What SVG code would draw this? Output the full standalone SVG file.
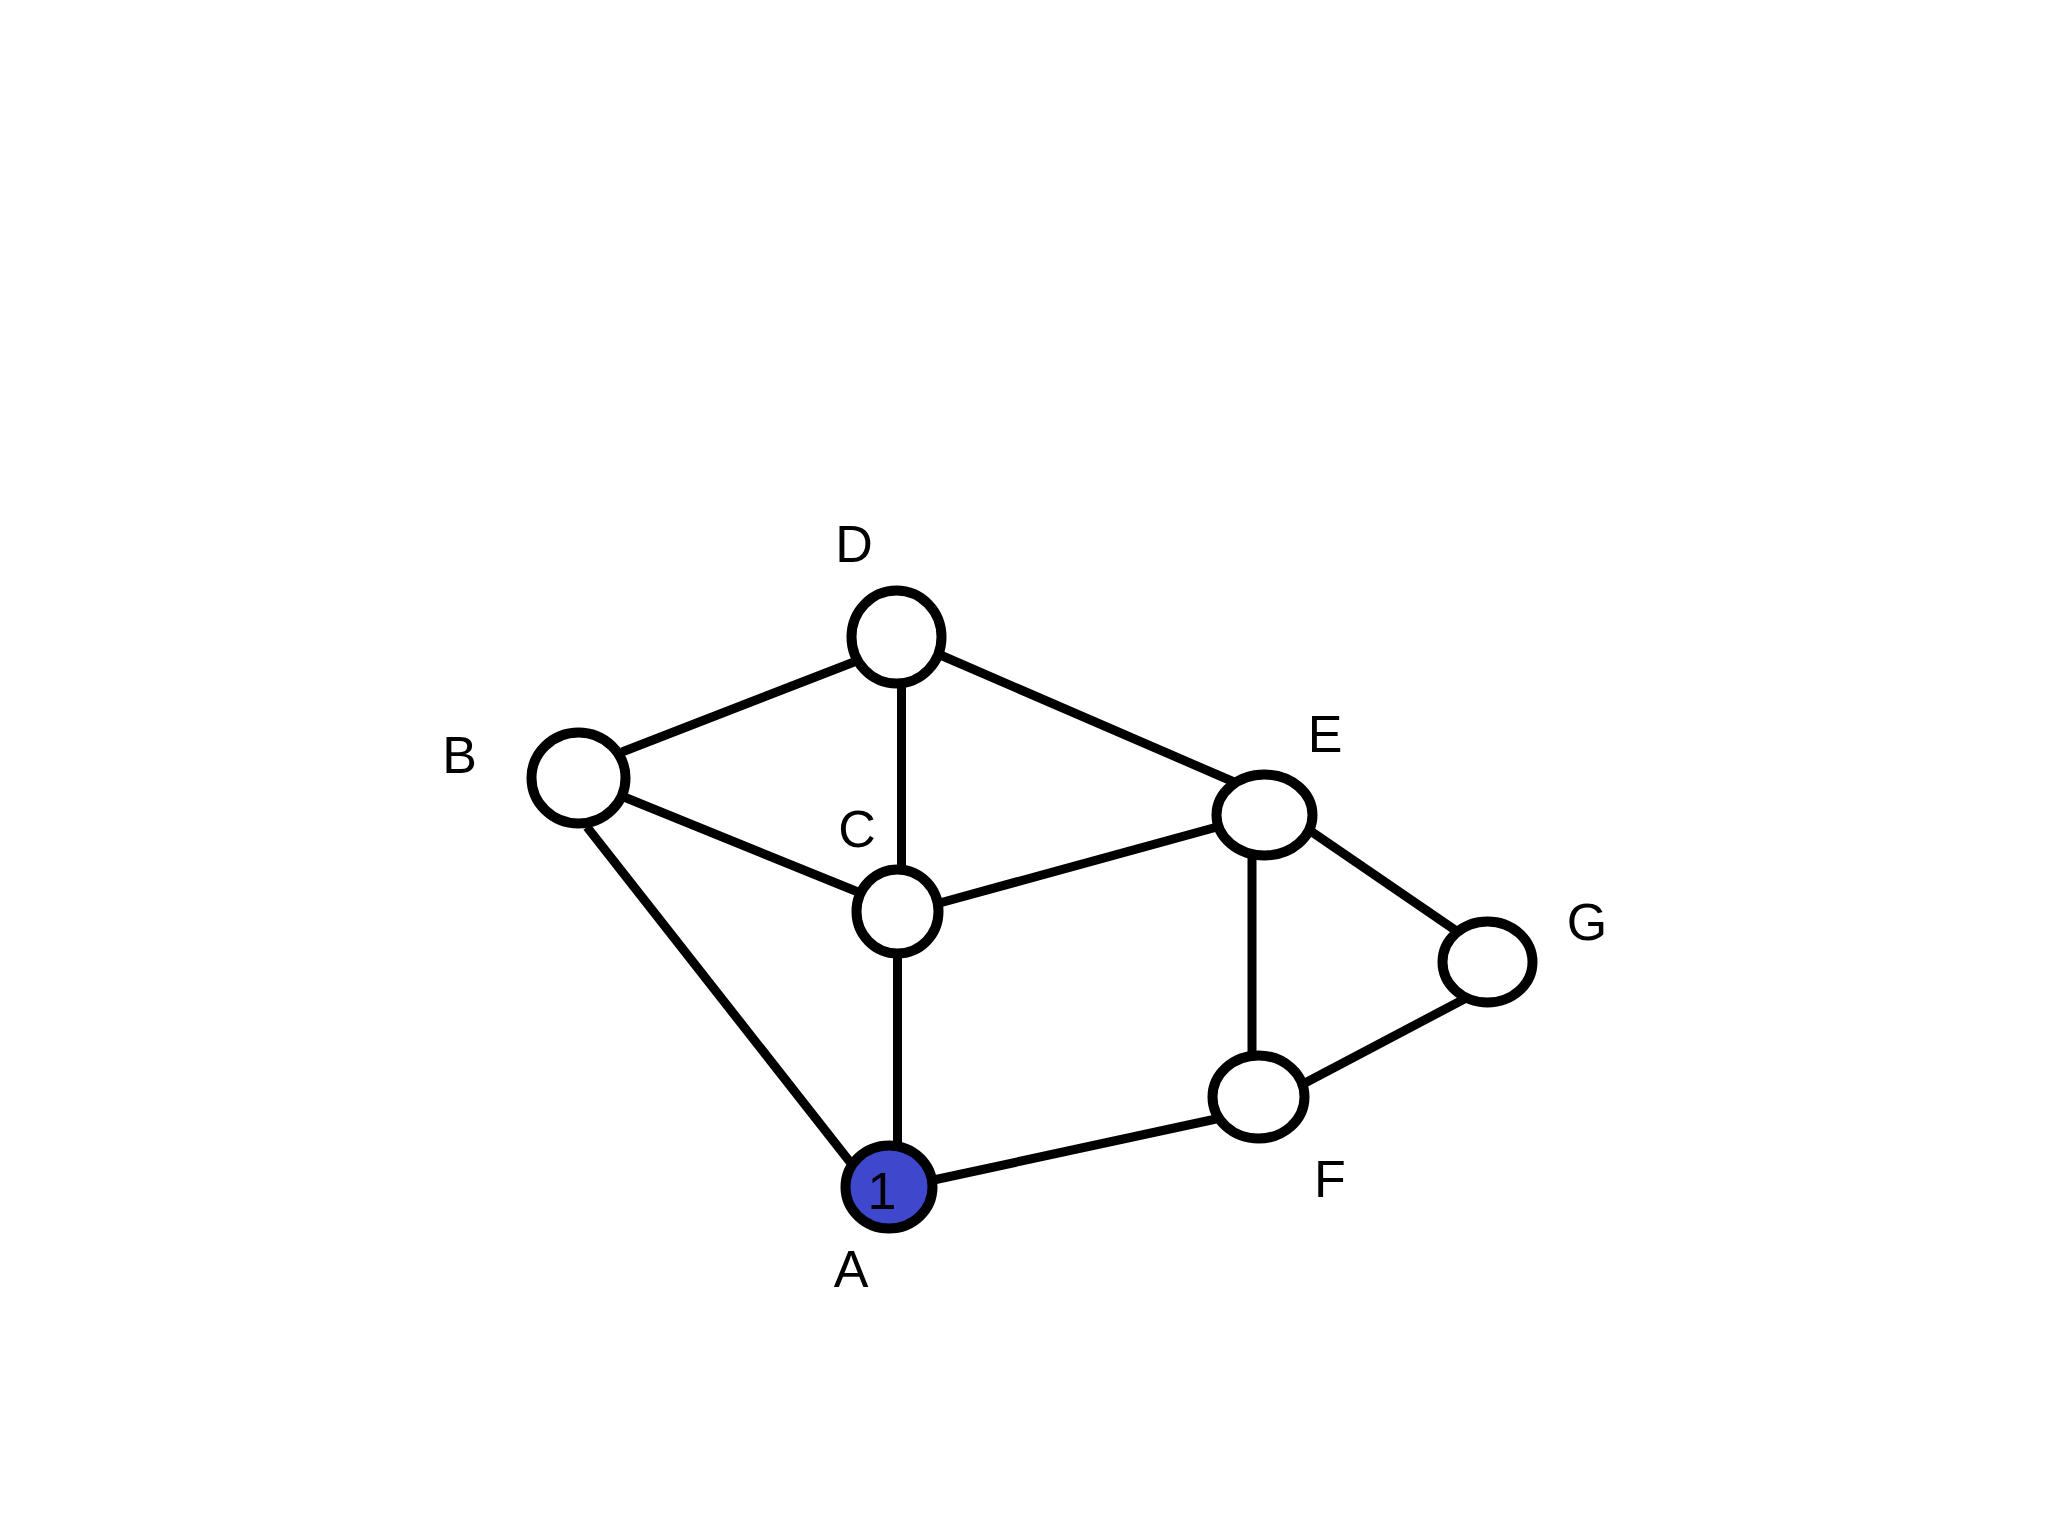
<svg xmlns="http://www.w3.org/2000/svg" width="2048" height="1536" viewBox="0 0 2048 1536">
<style>
.edge{stroke:#000;stroke-width:9;fill:none;stroke-linecap:butt}
.node{fill:#fff;stroke:#000;stroke-width:10}
.start{fill:#3f48cc}
.lbl{font-family:"Liberation Sans",Arial,sans-serif;font-size:52px;fill:#000;text-anchor:middle}
</style>
<rect width="2048" height="1536" fill="#fff"/>
<g id="edges">
<line class="edge" x1="622" y1="752" x2="854" y2="662"/>
<line class="edge" x1="624" y1="797" x2="858" y2="892"/>
<line class="edge" x1="587" y1="827" x2="850" y2="1162"/>
<line class="edge" x1="901.5" y1="680" x2="901.5" y2="872"/>
<line class="edge" x1="897.5" y1="950" x2="897.5" y2="1148"/>
<line class="edge" x1="938" y1="654" x2="1234" y2="782"/>
<line class="edge" x1="936" y1="904" x2="1217" y2="827"/>
<line class="edge" x1="1312" y1="832" x2="1455" y2="930"/>
<line class="edge" x1="1252" y1="852" x2="1252" y2="1058"/>
<line class="edge" x1="1470" y1="996" x2="1305" y2="1083"/>
<line class="edge" x1="929" y1="1181" x2="1216" y2="1119"/>
</g>
<g id="node-D"><ellipse class="node" cx="896.5" cy="637" rx="45" ry="46.5"/><text class="lbl" x="854" y="562">D</text></g>
<g id="node-B"><ellipse class="node" cx="578.5" cy="778" rx="47" ry="45.5"/><text class="lbl" x="459.5" y="773">B</text></g>
<g id="node-C"><ellipse class="node" cx="897.5" cy="911.5" rx="41" ry="42"/><text class="lbl" x="857" y="847">C</text></g>
<g id="node-E"><ellipse class="node" cx="1264.5" cy="815" rx="48" ry="40.5"/><text class="lbl" x="1325" y="752">E</text></g>
<g id="node-G"><ellipse class="node" cx="1487.5" cy="962" rx="45" ry="40.5"/><text class="lbl" x="1587" y="940">G</text></g>
<g id="node-F"><ellipse class="node" cx="1258.5" cy="1097" rx="46" ry="41.5"/><text class="lbl" x="1330" y="1197">F</text></g>
<g id="node-A"><ellipse class="node start" cx="889" cy="1187" rx="43.5" ry="41.5"/><text class="lbl" x="882" y="1209">1</text><text class="lbl" x="851" y="1287">A</text></g>
</svg>
